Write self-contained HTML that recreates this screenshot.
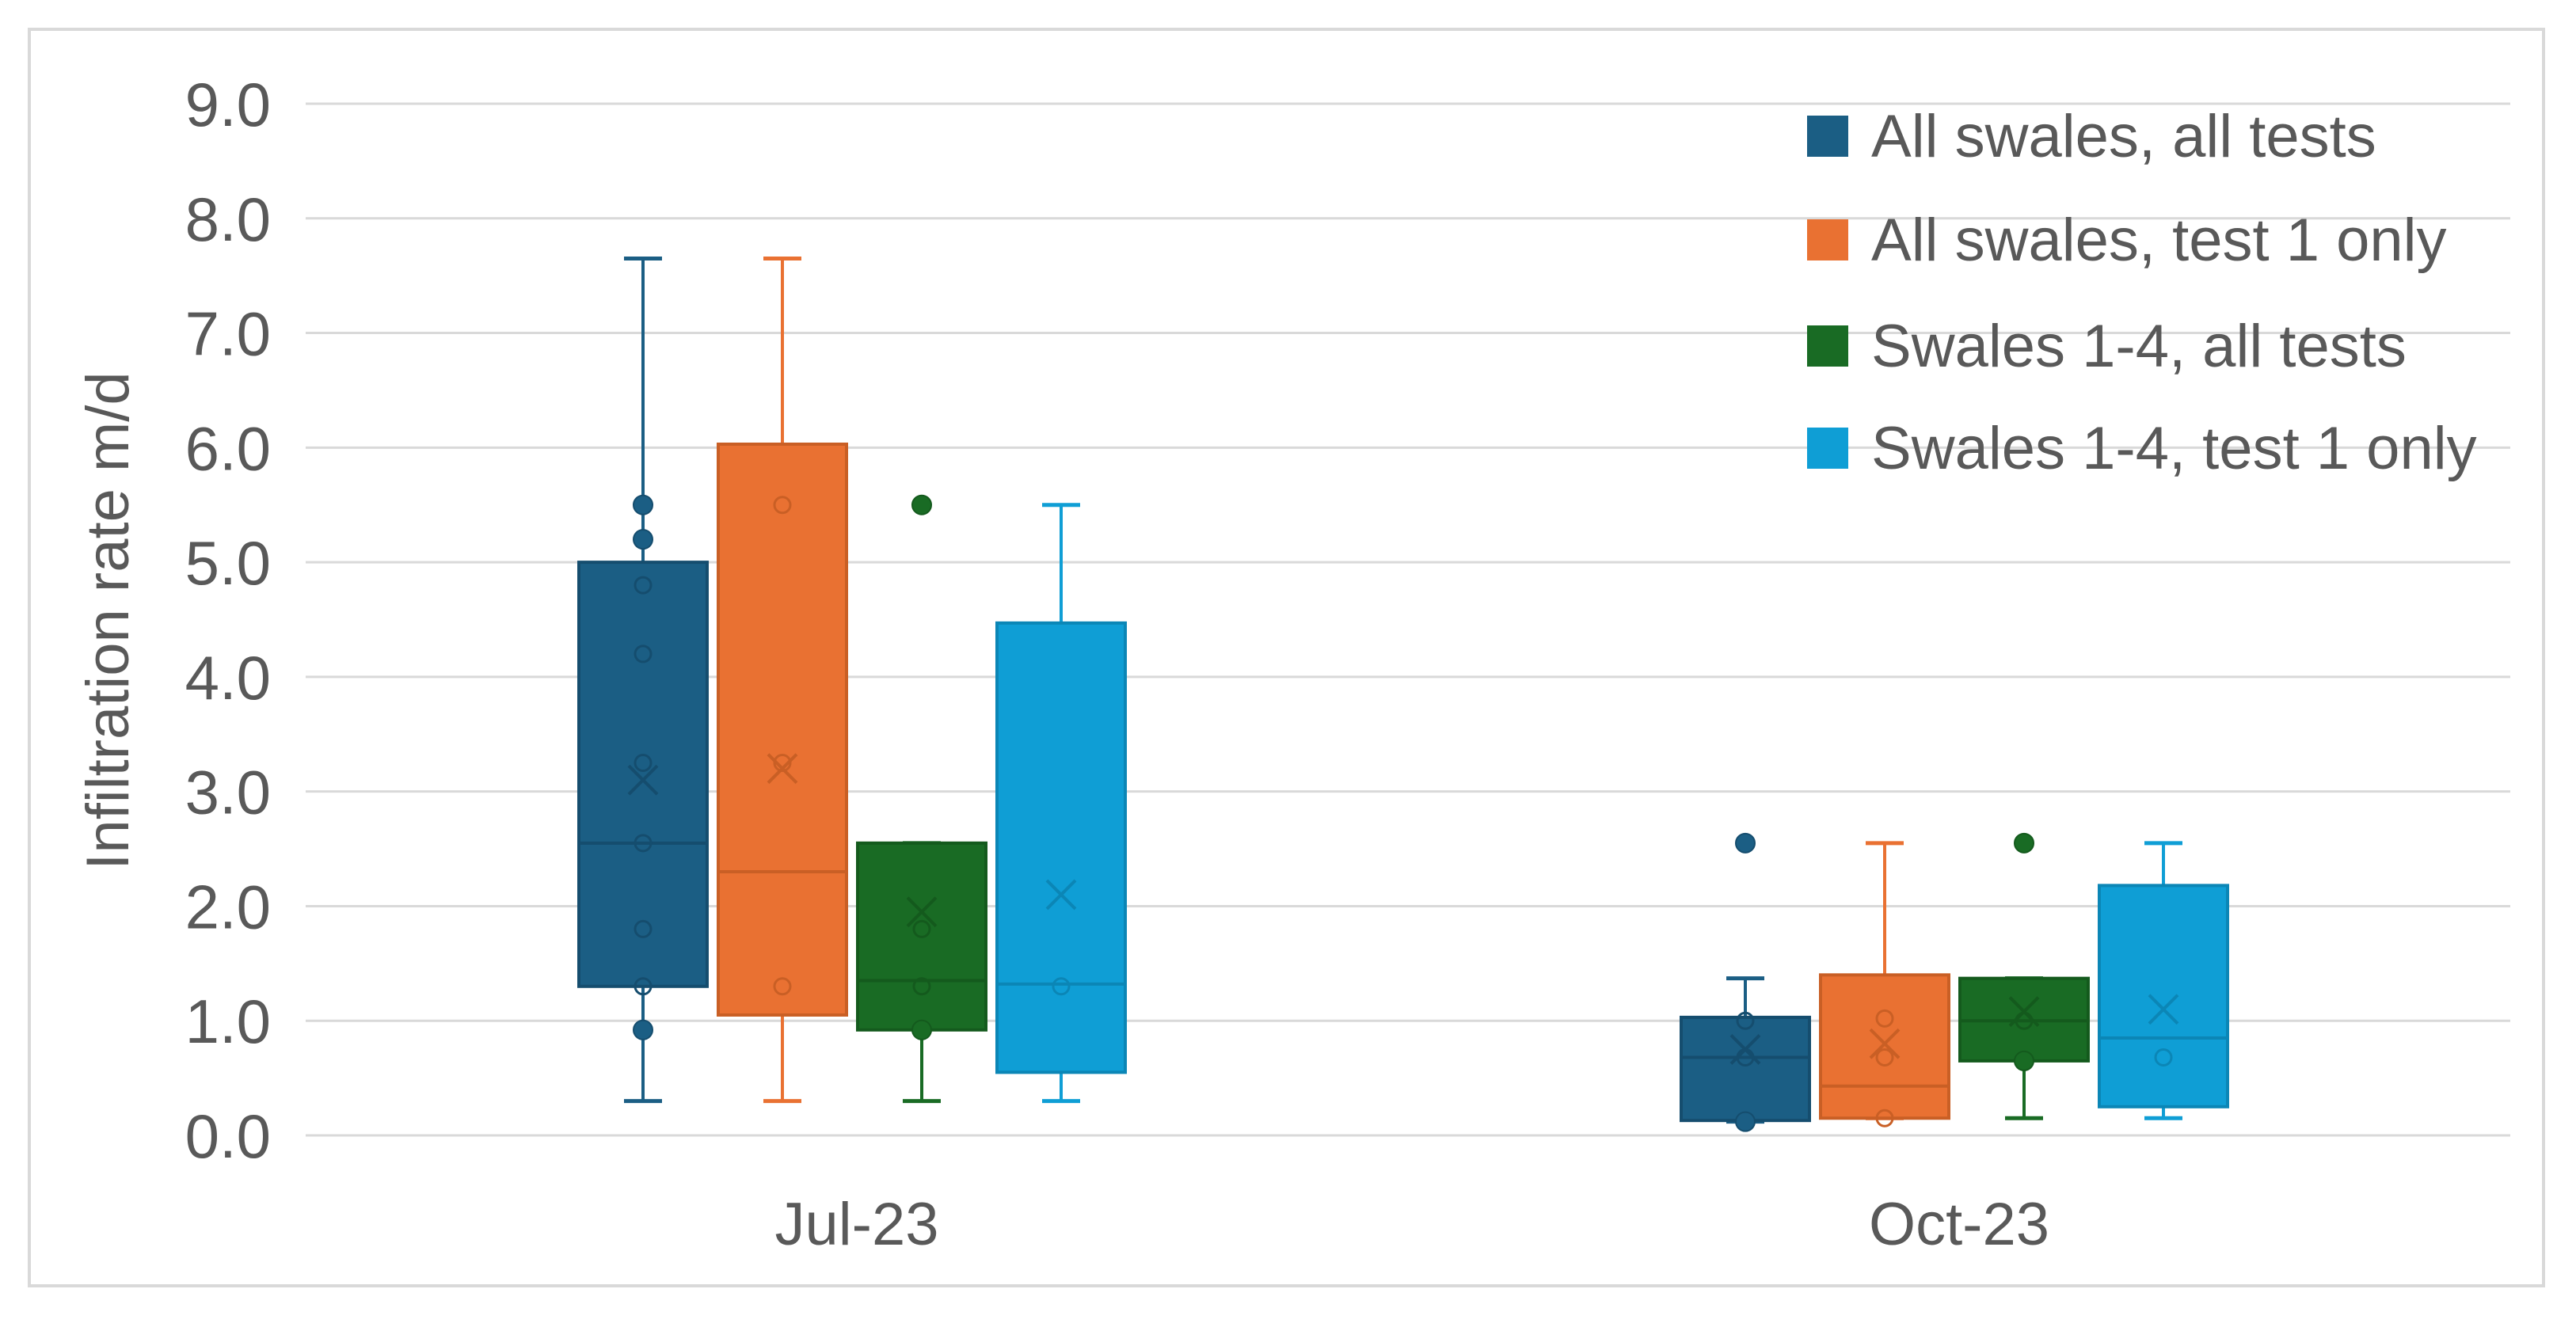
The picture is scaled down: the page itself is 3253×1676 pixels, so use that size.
<!DOCTYPE html>
<html><head><meta charset="utf-8"><style>
html,body{margin:0;padding:0;background:#fff}
svg{display:block}
text{font-family:"Liberation Sans",sans-serif;fill:#595959}
</style></head><body>
<svg id="chart" width="3253" height="1676" viewBox="0 0 3253 1676" xmlns="http://www.w3.org/2000/svg">
<rect x="37" y="37" width="3175" height="1587" fill="#fff" stroke="#d9d9d9" stroke-width="4"/>
<g id="grid"></g>
<g id="yticks"></g>
<text x="0" y="0" font-size="76" text-anchor="middle" transform="translate(162,784) rotate(-90)">Infiltration rate m/d</text>
<g id="xlabels"></g>
<g id="boxes"></g>
<g id="legend"></g>
</svg>
<script>
const categories = ["Jul-23", "Oct-23"];
const seriesNames = ["All swales, all tests", "All swales, test 1 only", "Swales 1-4, all tests", "Swales 1-4, test 1 only"];
const yTicks = [0,1,2,3,4,5,6,7,8,9];
// [category][series]
const whiskerLow = [[0.3,0.3,0.3,0.3],[0.12,0.15,0.15,0.15]];
const whiskerHigh = [[7.65,7.65,2.55,5.5],[1.37,2.55,1.37,2.55]];
const q1 = [[1.3,1.05,0.92,0.55],[0.13,0.15,0.65,0.25]];
const q3 = [[5.0,6.03,2.55,4.47],[1.03,1.4,1.37,2.18]];
const medians = [[2.55,2.3,1.35,1.32],[0.68,0.43,1.0,0.85]];
const means = [[3.1,3.2,1.95,2.1],[0.75,0.8,1.08,1.1]];
const innerPoints = [[[1.3,1.8,2.55,3.25,4.2,4.8],[1.3,3.25,5.5],[1.3,1.8],[1.3]],[[1.0,0.68],[1.02,0.68,0.15],[1.0],[0.68]]];
const filledPoints = [[[0.92,5.2,5.5],[],[0.92,5.5],[]],[[0.12,2.55],[],[0.65,2.55],[]]];

const colors = ["#1b5e84","#e97132","#196b24","#0f9ed5"];
const strokes = ["#154d6e","#c95f25","#145a1d","#0b86b6"];
const NS="http://www.w3.org/2000/svg";
const L=386,R=3170,Y0=1434,Y9=131;
const y=v=>Y0-(v/9)*(Y0-Y9);
const catW=(R-L)/categories.length;
const x=(c,s)=>L+catW*(c+0.5)+(s-1.5)*176-6;
function mk(tag,attrs,parent){const e=document.createElementNS(NS,tag);for(const k in attrs)e.setAttribute(k,attrs[k]);parent.appendChild(e);return e;}
const grid=document.getElementById('grid'),yt=document.getElementById('yticks');
yTicks.forEach(t=>{
  const l=mk('line',{x1:L,x2:R,y1:y(t),y2:y(t),stroke:'#d9d9d9','stroke-width':3},grid);
  
  
  const tx=mk('text',{x:342,y:y(t)+28,'font-size':78,'text-anchor':'end'},yt);
  tx.textContent=t.toFixed(1);
  
  
});
const xl=document.getElementById('xlabels');
categories.forEach((c,i)=>{
  const t=mk('text',{x:L+catW*(i+0.5),y:1572,'font-size':76,'text-anchor':'middle'},xl);
  t.textContent=c;
  
  
});
const bx=document.getElementById('boxes');
categories.forEach((c,ci)=>{
  seriesNames.forEach((s,si)=>{
    const cx=x(ci,si),col=colors[si],st=strokes[si],hw=81;
    const g=mk('g',{},bx);
    
    
    mk('line',{x1:cx,x2:cx,y1:y(whiskerLow[ci][si]),y2:y(q1[ci][si]),stroke:col,'stroke-width':4},g);
    mk('line',{x1:cx,x2:cx,y1:y(whiskerHigh[ci][si]),y2:y(q3[ci][si]),stroke:col,'stroke-width':4},g);
    mk('line',{x1:cx-24,x2:cx+24,y1:y(whiskerLow[ci][si]),y2:y(whiskerLow[ci][si]),stroke:col,'stroke-width':5},g);
    mk('line',{x1:cx-24,x2:cx+24,y1:y(whiskerHigh[ci][si]),y2:y(whiskerHigh[ci][si]),stroke:col,'stroke-width':5},g);
    mk('rect',{x:cx-hw,y:y(q3[ci][si]),width:hw*2,height:y(q1[ci][si])-y(q3[ci][si]),fill:col,stroke:st,'stroke-width':4},g);
    mk('line',{x1:cx-hw,x2:cx+hw,y1:y(medians[ci][si]),y2:y(medians[ci][si]),stroke:st,'stroke-width':4},g);
    const m=y(means[ci][si]);
    mk('path',{d:`M${cx-18} ${m-18}L${cx+18} ${m+18}M${cx+18} ${m-18}L${cx-18} ${m+18}`,stroke:st,'stroke-width':4,fill:'none'},g);
    innerPoints[ci][si].forEach(v=>mk('circle',{cx:cx,cy:y(v),r:10,fill:'none',stroke:st,'stroke-width':3},g));
    filledPoints[ci][si].forEach(v=>mk('circle',{cx:cx,cy:y(v),r:12,fill:col,stroke:st,'stroke-width':2},g));
  });
});
const lg=document.getElementById('legend');
seriesNames.forEach((s,i)=>{
  const cy=[172,303,437,566][i];
  const g=mk('g',{},lg);
  
  
  mk('rect',{x:2282,y:cy-26,width:52,height:52,fill:colors[i]},g);
  const t=mk('text',{x:2363,y:cy+26,'font-size':76},g);
  t.textContent=s;
});
</script>
</body></html>
